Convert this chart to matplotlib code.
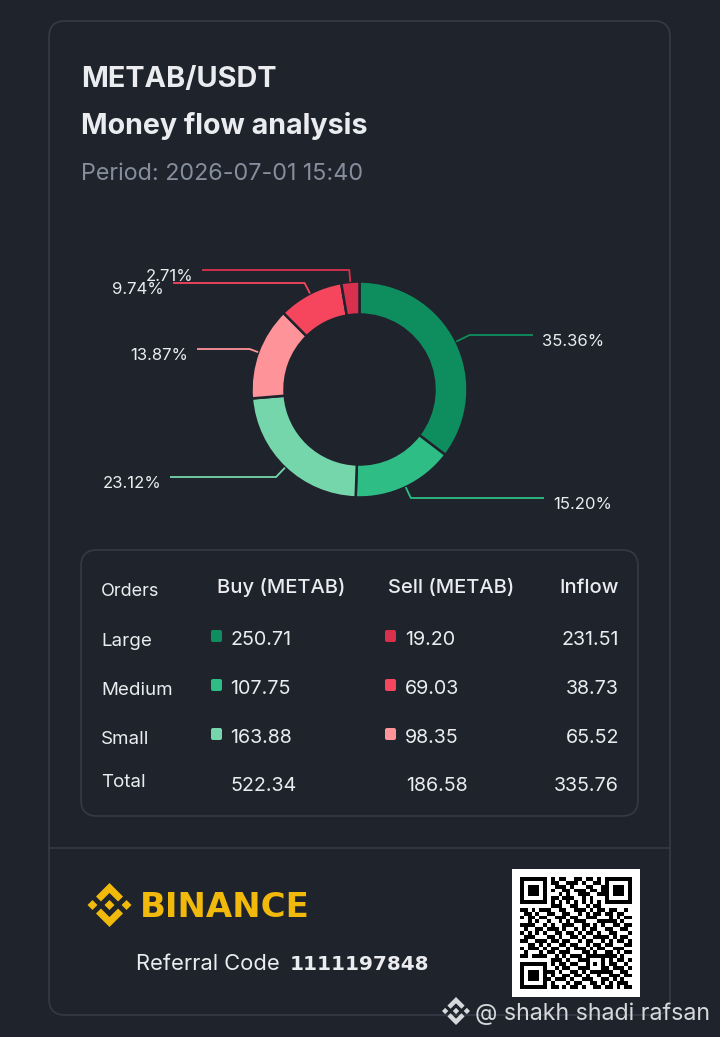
import numpy as np
import matplotlib
matplotlib.use("Agg")
import matplotlib.pyplot as plt
from matplotlib.patches import FancyBboxPatch, Polygon, Rectangle

plt.rcParams['font.family'] = ['Inter', 'DejaVu Sans']

# ---- data ----
pair = "METAB/USDT"
period = "Period: 2026-07-01 15:40"
orders = ["Large", "Medium", "Small"]
buy = [250.71, 107.75, 163.88]
sell = [19.20, 69.03, 98.35]
buy_total = 522.34
sell_total = 186.58
inflow = [231.51, 38.73, 65.52]
inflow_total = 335.76
# percentages as printed on the chart (clockwise from top)
pct_labels = ["35.36%", "15.20%", "23.12%", "13.87%", "9.74%", "2.71%"]
referral = "1111197848"
watermark = "@ shakh shadi rafsan"

buy_colors = ["#0e8e5e", "#2ebd85", "#76d6ab"]
sell_colors = ["#d9304e", "#f6465d", "#ff939a"]

bg = "#1f232b"
border = "#353b46"
white = "#eaecef"
grey = "#848e9c"

W, H = 720, 1037
fig = plt.figure(figsize=(W / 100, H / 100), dpi=100, facecolor=bg)
ax = fig.add_axes([0, 0, 1, 1])
ax.set_facecolor(bg)

# card
ax.add_patch(FancyBboxPatch((49, 21), 621, 994, boxstyle="round,pad=0,rounding_size=16",
                            fc=bg, ec=border, lw=1.2))
ax.plot([49, 670], [848, 848], color=border, lw=1.2)

# header
ax.text(81, 87, pair, color=white, fontsize=20.8, fontweight="bold")
ax.text(81, 134, "Money flow analysis", color=white, fontsize=20.6, fontweight="bold")
ax.text(81, 180, period, color=grey, fontsize=16.8)

# donut: large/medium/small buy, then small/medium/large sell (clockwise from top)
vals = buy + sell[::-1]
cols = buy_colors + sell_colors[::-1]
cx, cy, R = 359.5, 389.5, 108
wedges, _ = ax.pie(vals, colors=cols, center=(cx, cy), radius=R, startangle=-90,
                   counterclock=True, frame=True,
                   wedgeprops=dict(width=33, edgecolor=bg, linewidth=1.8))

# label layout: leader line y, line end x
line_y = [335, 498, 477, 349, 283, 270]
line_end = [533, 544, 170, 197, 173, 202]
for w, lab, ly, lx, c in zip(wedges, pct_labels, line_y, line_end, cols):
    th = np.deg2rad((w.theta1 + w.theta2) / 2)
    dx, dy = np.cos(th), np.sin(th)
    ax0, ay0 = cx + R * dx, cy + R * dy
    t = max(abs(ly - ay0) / max(abs(dy), 1e-3), 4)
    t = min(t, 16)
    ex = ax0 + t * dx
    ax.plot([ax0, ex, lx], [ay0, ly, ly], color=c, lw=1.3, solid_capstyle="butt")
    if lx > cx:
        ax.text(lx + 9, ly + 11, lab, color=white, fontsize=12, ha="left")
    else:
        ax.text(lx - 9, ly + 11, lab, color=white, fontsize=12, ha="right")

# table
ax.add_patch(FancyBboxPatch((81, 550), 557, 266, boxstyle="round,pad=0,rounding_size=16",
                            fc=bg, ec=border, lw=1.2))
ax.text(101, 596, "Orders", color=white, fontsize=13)
ax.text(217, 593, "Buy (METAB)", color=white, fontsize=14.5, fontweight="medium")
ax.text(388, 593, "Sell (METAB)", color=white, fontsize=14.5, fontweight="medium")
ax.text(619, 593, "Inflow", color=white, fontsize=14.5, fontweight="medium", ha="right")

row_base = [645, 694, 743]
for i, name in enumerate(orders):
    yb = row_base[i]
    ax.text(101, yb + 1, name, color=white, fontsize=13.5)
    ax.add_patch(FancyBboxPatch((211, yb - 15), 11, 12, boxstyle="round,pad=0,rounding_size=2",
                                fc=buy_colors[i], ec="none"))
    ax.text(230, yb, f"{buy[i]:.2f}", color=white, fontsize=14.2)
    ax.add_patch(FancyBboxPatch((385, yb - 15), 11, 12, boxstyle="round,pad=0,rounding_size=2",
                                fc=sell_colors[i], ec="none"))
    ax.text(405, yb, f"{sell[i]:.2f}", color=white, fontsize=14.2)
    ax.text(619, yb, f"{inflow[i]:.2f}", color=white, fontsize=14.2, ha="right")

ax.text(101, 787, "Total", color=white, fontsize=13.5)
ax.text(230, 791, f"{buy_total:.2f}", color=white, fontsize=14.2)
ax.text(406, 791, f"{sell_total:.2f}", color=white, fontsize=14.2)
ax.text(619, 791, f"{inflow_total:.2f}", color=white, fontsize=14.2, ha="right")

# binance logo
top_chev = [(-0.388, -0.160), (0, -0.548), (0.389, -0.159), (0.615, -0.385), (0, -1), (-0.614, -0.386)]
left_dia = [(-1, 0), (-0.774, -0.226), (-0.548, 0), (-0.774, 0.226)]
mid_dia = [(0.229, 0), (0, -0.229), (-0.229, 0), (0, 0.229)]
logo_parts = [top_chev, [(x, -y) for x, y in top_chev], left_dia,
              [(-x, y) for x, y in left_dia], mid_dia]


def draw_logo(x0, y0, s, color):
    for part in logo_parts:
        ax.add_patch(Polygon([(x0 + x * s, y0 + y * s) for x, y in part], closed=True,
                             fc=color, ec="none"))


draw_logo(109.5, 905, 22, "#f0b90b")
ax.text(140, 917, "BINANCE", color="#f0b90b", fontsize=24.5, fontweight="bold",
        family="DejaVu Sans")
ax.text(136, 970, "Referral Code", color=white, fontsize=15.8)
ax.text(290, 970, referral, color=white, fontsize=14.4, fontweight="bold",
        family="DejaVu Sans")

# qr code
qr_rows = [
    "1111111" + "010110011011010" + "1111111",
    "1000001" + "011001110100110" + "1000001",
    "1011101" + "001110100011001" + "1011101",
    "1011101" + "010011011101101" + "1011101",
    "1011101" + "000101001110011" + "1011101",
    "1000001" + "011011100101000" + "1000001",
    "1111111" + "010101010101010" + "1111111",
    "0000000" + "011100110010110" + "0000000",
    "1101011" + "100110011101011" + "0110010",
    "0110100" + "110011001010110" + "1101100",
    "1011011" + "001110110011100" + "0101011",
    "0010100" + "100101011100011" + "1110100",
    "1111001" + "010011100110101" + "0011011",
    "0100110" + "111010010101100" + "1100110",
    "1010101" + "001101101011010" + "0110001",
    "0111000" + "110100110100111" + "1010110",
    "1100111" + "011011001011001" + "0101101",
    "0011010" + "100110110010110" + "1100011",
    "1011101" + "011001011101011" + "0011100",
    "0100010" + "110111000110100" + "1101011",
    "1101111" + "001010111011111" + "1110100",
    "0000000" + "011101001110001" + "0101101",
    "1111111" + "010110110010101" + "0110010",
    "1000001" + "001011001110001" + "1011101",
    "1011101" + "110100110101111" + "1100110",
    "1011101" + "010011011010010" + "0111011",
    "1011101" + "101110100111001" + "1010100",
    "1000001" + "010001011001101" + "0101110",
    "1111111" + "011010110100110" + "1101011",
]
qr = np.array([[int(ch) for ch in r] for r in qr_rows])
ax.add_patch(Rectangle((512, 869), 128, 128, fc="white", ec="none"))
ax.imshow(qr, cmap="gray_r", interpolation="nearest", extent=(520, 632, 989, 877),
          origin="upper", vmin=0, vmax=1, zorder=3)

# watermark
draw_logo(456, 1011, 14, "#d6d8db")
ax.text(475, 1020, watermark, color="#d6d8db", fontsize=16.7)

ax.set_xlim(0, W)
ax.set_ylim(H, 0)
ax.set_aspect("auto")
ax.axis("off")
fig.savefig("out.png", dpi=100, facecolor=bg)
